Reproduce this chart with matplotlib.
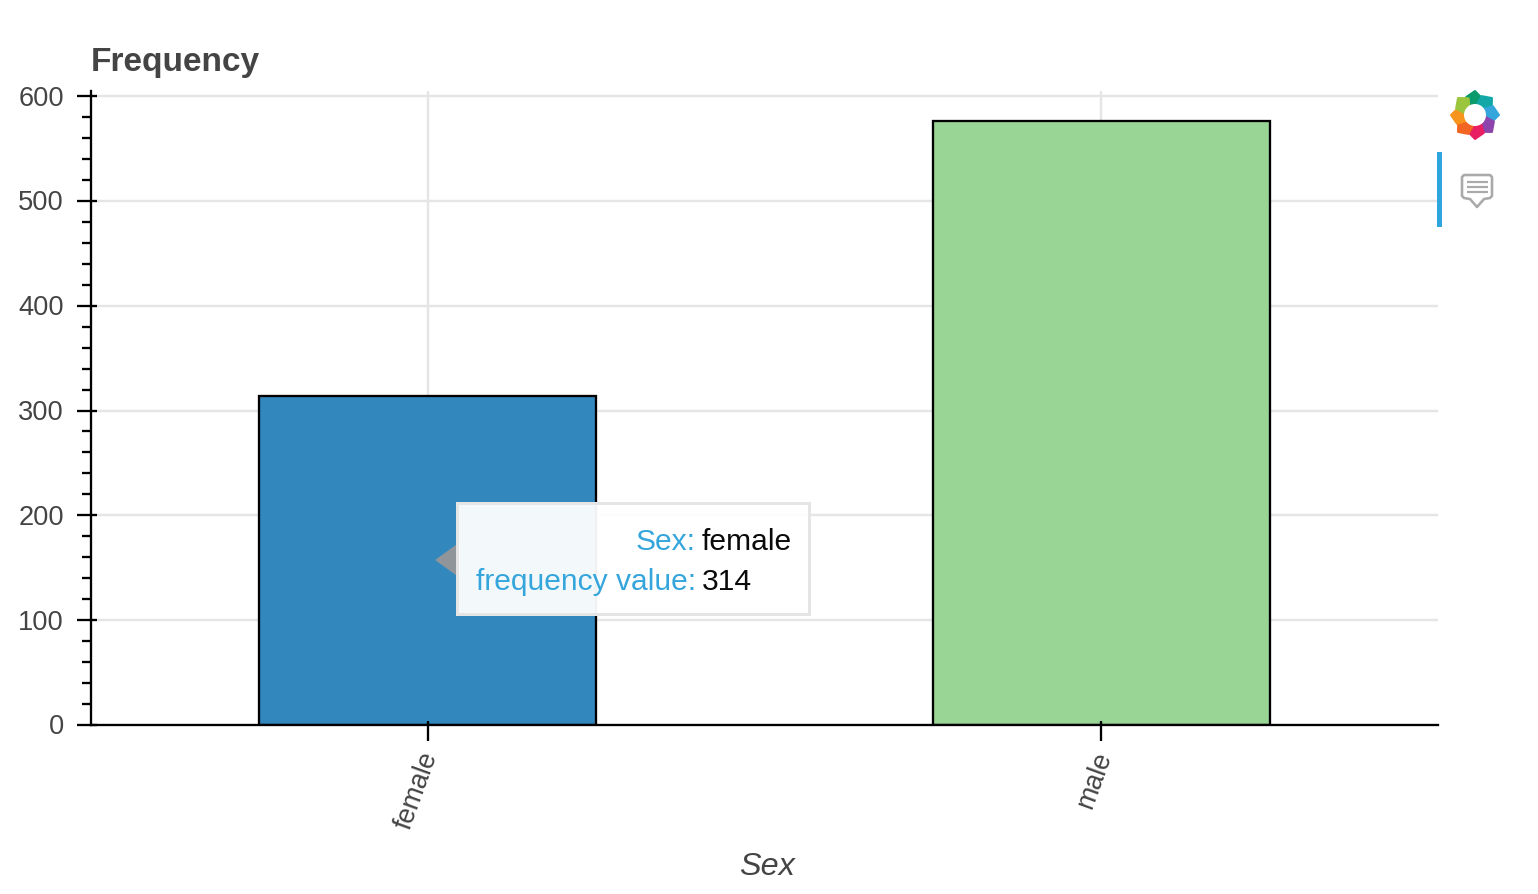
import matplotlib
matplotlib.use("Agg")
import matplotlib.pyplot as plt
from matplotlib.patches import Polygon, Rectangle, Circle
import numpy as np

plt.rcParams['font.family'] = ['Liberation Sans', 'DejaVu Sans']

categories = ['female', 'male']
frequency = [314, 576]
bar_colors = ['#3288bd', '#99d594']
y_ticks = [0, 100, 200, 300, 400, 500, 600]
title = 'Frequency'
x_label = 'Sex'
tooltip_keys = ['Sex:', 'frequency value:']

W, H = 1538, 894
DPI = 100
px = 72 / DPI
TXT = '#444444'
GRID = '#e5e5e5'
LW = 2.3 * px

fig = plt.figure(figsize=(W / DPI, H / DPI), dpi=DPI, facecolor='white')
L, R, T, B = 91, 1438, 91, 725
ax = fig.add_axes([L / W, 1 - B / H, (R - L) / W, (B - T) / H])

pos = [0.5, 1.5]
ax.set_xlim(0, 2)
ax.set_ylim(0, 600 * (B - T) / 629)
ax.set_axisbelow(True)
ax.bar(pos, frequency, width=0.5, color=bar_colors, edgecolor='black', linewidth=LW, zorder=3)

ax.grid(True, color=GRID, linewidth=2.4 * px, zorder=0)
for s in ('top', 'right'):
    ax.spines[s].set_visible(False)
for s in ('left', 'bottom'):
    ax.spines[s].set_linewidth(LW)
    ax.spines[s].set_zorder(4)

ax.set_xticks(pos)
ax.set_xticklabels(categories)
ax.set_yticks(y_ticks)
ax.set_yticks(np.arange(0, 601, 20), minor=True)
ax.tick_params(axis='y', which='major', length=14 * px, width=LW, pad=0, labelleft=False)
ax.tick_params(axis='y', which='minor', length=9 * px, width=LW)
ax.tick_params(axis='x', which='major', length=16 * px, width=LW, labelbottom=False)

# Inner portions of the major ticks
for v in y_ticks:
    ax.plot([0, 6 / (R - L)], [v, v], transform=ax.get_yaxis_transform(), color='black',
            lw=LW, clip_on=False, zorder=5, solid_capstyle='butt')
for p in pos:
    ax.plot([p, p], [0, 4 / (B - T)], transform=ax.get_xaxis_transform(), color='black',
            lw=LW, clip_on=False, zorder=5, solid_capstyle='butt')

# Tick labels placed by data position with pixel offsets
for v in y_ticks:
    ax.annotate(str(v), xy=(0, v), xycoords=ax.get_yaxis_transform(), xytext=(-27 * px, -9.5 * px),
                textcoords='offset points', ha='right', va='baseline', fontsize=19.6, color=TXT,
                annotation_clip=False)
for p, c in zip(pos, categories):
    ax.annotate(c, xy=(p, 0), xycoords=ax.get_xaxis_transform(), xytext=(-9 * px, -23 * px),
                textcoords='offset points', ha='right', va='top', rotation=70,
                rotation_mode='anchor', fontsize=19.4, color=TXT, annotation_clip=False)

# Overlay in pixel coordinates for title, labels, tooltip and toolbar
ov = fig.add_axes([0, 0, 1, 1], zorder=10)
ov.set_xlim(0, W)
ov.set_ylim(H, 0)
ov.axis('off')
ov.patch.set_alpha(0)

ov.text(91, 71, title, fontsize=24.1, fontweight='bold', color=TXT, ha='left', va='baseline')
ov.text(767, 875, x_label, fontsize=23.3, fontstyle='italic', color=TXT, ha='center', va='baseline')

# Tooltip
ov.add_patch(Polygon([(435, 560), (460, 542), (460, 578)], closed=True, facecolor='#909599',
                     edgecolor='none', zorder=1))
ov.add_patch(Rectangle((457, 503), 352, 111, facecolor='white', alpha=0.95, edgecolor='none', zorder=2))
ov.add_patch(Rectangle((457, 503), 352, 111, facecolor='none', edgecolor='#e5e5e5',
                       linewidth=3 * px, zorder=3))
ov.text(696, 550, tooltip_keys[0], fontsize=21.6, color='#35a6dc', ha='right', va='baseline', zorder=4)
ov.text(702, 550, categories[0], fontsize=21.6, color='#0a0a0a', ha='left', va='baseline', zorder=4)
ov.text(696, 590, tooltip_keys[1], fontsize=21.6, color='#35a6dc', ha='right', va='baseline', zorder=4)
ov.text(702, 590, str(frequency[0]), fontsize=21.6, color='#0a0a0a', ha='left', va='baseline', zorder=4)

# Toolbar: pinwheel logo, clockwise from the top
logo_colors = ['#0a9a6c', '#12a8a8', '#35a6dc', '#8e44ad', '#e91e63', '#f26522', '#f7941d', '#9bc53d']
cx, cy = 1475, 115
poly = [(9, -38), (20, -26), (24, 0), (18, 24), (9, 8)]
for i, c in enumerate(logo_colors):
    a = np.deg2rad(-90 + i * 45)
    pts = [(cx + r * np.cos(a + np.deg2rad(d)), cy + r * np.sin(a + np.deg2rad(d))) for r, d in poly]
    ov.add_patch(Polygon(pts, closed=True, facecolor=c, edgecolor=c, linewidth=2 * px, joinstyle='round'))
ov.add_patch(Circle((cx, cy), 11, facecolor='white', edgecolor='none', zorder=3))

# Toolbar: active indicator and comment icon
ov.add_patch(Rectangle((1437, 152), 5, 75, facecolor='#2ea6dd', edgecolor='none'))
icon = [(1462, 177), (1464, 175), (1490, 175), (1492, 177), (1492, 196), (1490, 198), (1484, 199),
        (1477, 207), (1470, 199), (1464, 198), (1462, 196)]
ov.add_patch(Polygon(icon, closed=True, facecolor='white', edgecolor='#aaaaaa', linewidth=2.6 * px,
                     joinstyle='round'))
for yy in (182, 187, 192):
    ov.plot([1467, 1488], [yy, yy], color='#aaaaaa', lw=2.2 * px, solid_capstyle='butt')

fig.savefig('out.png', dpi=DPI, facecolor='white')
